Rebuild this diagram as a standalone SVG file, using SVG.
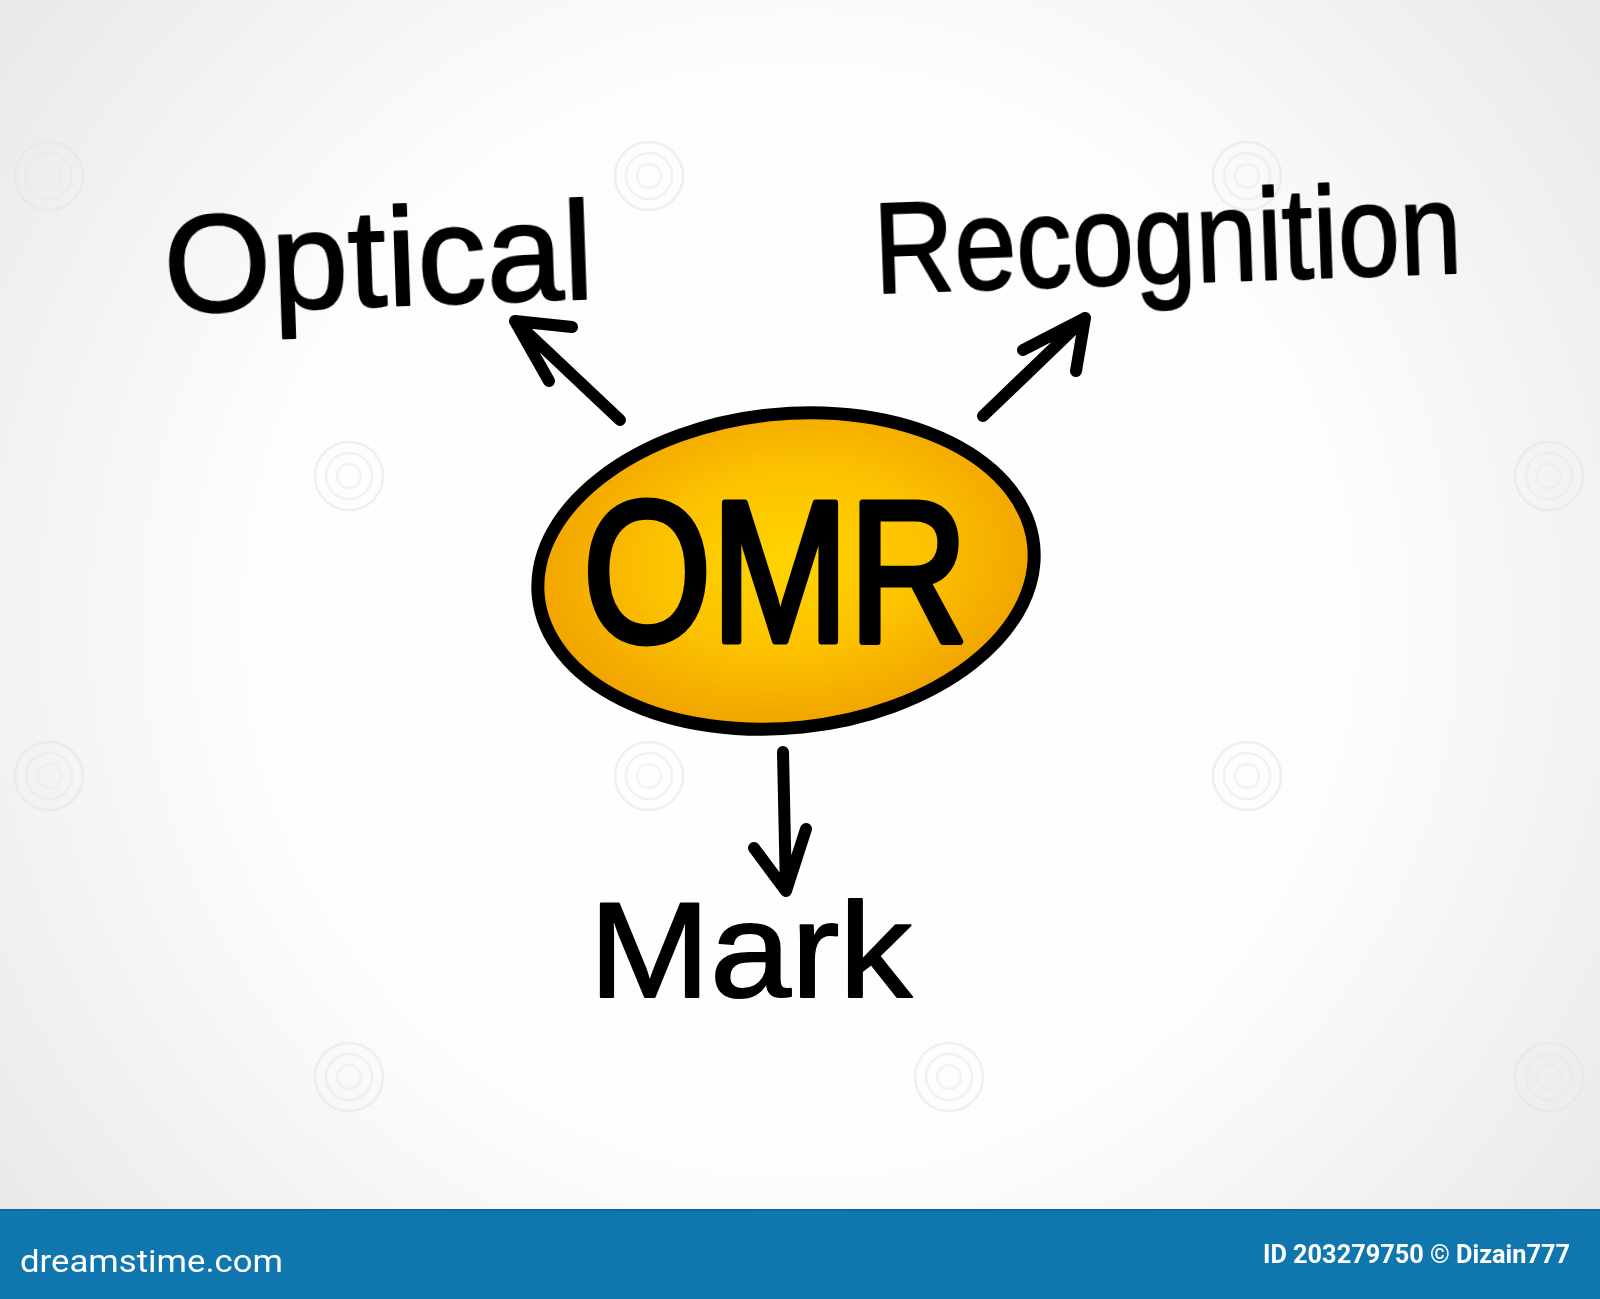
<svg xmlns="http://www.w3.org/2000/svg" width="1600" height="1299" viewBox="0 0 1600 1299">
<defs>
<radialGradient id="bg" cx="800" cy="620" r="1000" gradientUnits="userSpaceOnUse">
<stop offset="0" stop-color="#ffffff"/>
<stop offset="0.55" stop-color="#fdfdfd"/>
<stop offset="1" stop-color="#e9e9eb"/>
</radialGradient>
<radialGradient id="fill" cx="790" cy="560" r="270" gradientUnits="userSpaceOnUse" gradientTransform="translate(790 560) scale(1 0.66) translate(-790 -560)">
<stop offset="0" stop-color="#ffd400"/>
<stop offset="0.5" stop-color="#fcc200"/>
<stop offset="1" stop-color="#f0a000"/>
</radialGradient>
<symbol id="wm" viewBox="-40 -40 80 80" overflow="visible">
<circle r="34" fill="none" stroke="#e4e4e4" stroke-width="2.5"/>
<circle r="23" fill="none" stroke="#e8e8e8" stroke-width="2.5"/>
<circle r="12" fill="none" stroke="#eaeaea" stroke-width="2.5"/>
</symbol>
</defs>
<style>
.hand{font-family:"Liberation Sans","DejaVu Sans",sans-serif;fill:#000;stroke:#000;stroke-linejoin:round;stroke-linecap:round}
.arrow{fill:none;stroke:#000;stroke-width:12;stroke-linecap:round;stroke-linejoin:round}
.foot{font-family:Roboto,"Liberation Sans",sans-serif;fill:#fff}
</style>
<rect x="0" y="0" width="1600" height="1299" fill="url(#bg)"/>
<g id="watermarks" opacity="0.55">
<use href="#wm" x="9" y="136" width="80" height="80"/>
<use href="#wm" x="609" y="136" width="80" height="80"/>
<use href="#wm" x="1207" y="136" width="80" height="80"/>
<use href="#wm" x="309" y="436" width="80" height="80"/>
<use href="#wm" x="1509" y="436" width="80" height="80"/>
<use href="#wm" x="9" y="736" width="80" height="80"/>
<use href="#wm" x="609" y="736" width="80" height="80"/>
<use href="#wm" x="1207" y="736" width="80" height="80"/>
<use href="#wm" x="309" y="1037" width="80" height="80"/>
<use href="#wm" x="909" y="1037" width="80" height="80"/>
<use href="#wm" x="1509" y="1037" width="80" height="80"/>
</g>
<g id="connectors">
<path class="arrow" d="M620 420 L515 321 M515 321 L572 327 M515 321 L549 381"/>
<path class="arrow" d="M983 416 L1085 318 M1085 318 L1023 350 M1085 318 L1076 371"/>
<path class="arrow" d="M783 752 L786 891 M786 891 L754 848 M786 891 L806 829"/>
</g>
<g id="node-omr">
<ellipse cx="786" cy="571" rx="249" ry="157" transform="rotate(-6 786 571)" fill="url(#fill)" stroke="#000" stroke-width="13"/>
<text class="hand" x="583" y="641" font-size="200" stroke-width="7" textLength="385" lengthAdjust="spacingAndGlyphs">OMR</text>
</g>
<g id="node-optical">
<text class="hand" x="165" y="306" font-size="140" stroke-width="2" textLength="430" lengthAdjust="spacingAndGlyphs" transform="rotate(-2 380 300)">Optical</text>
</g>
<g id="node-recognition">
<text class="hand" x="875" y="283" font-size="130" stroke-width="2" textLength="588" lengthAdjust="spacingAndGlyphs" transform="rotate(-2 1168 280)">Recognition</text>
</g>
<g id="node-mark">
<text class="hand" x="589" y="997" font-size="135" stroke-width="2" textLength="323" lengthAdjust="spacingAndGlyphs">Mark</text>
</g>
<g id="footer">
<rect x="0" y="1209" width="1600" height="90" fill="#1077ae"/>
<rect x="0" y="1209" width="1600" height="2" fill="#0d6a9c"/>
<text class="foot" x="20" y="1272" font-size="32" textLength="263" lengthAdjust="spacingAndGlyphs">dreamstime.com</text>
<text class="foot" x="1263" y="1263" font-size="25" font-weight="bold" textLength="307" lengthAdjust="spacingAndGlyphs">ID 203279750 © Dizain777</text>
</g>
</svg>
